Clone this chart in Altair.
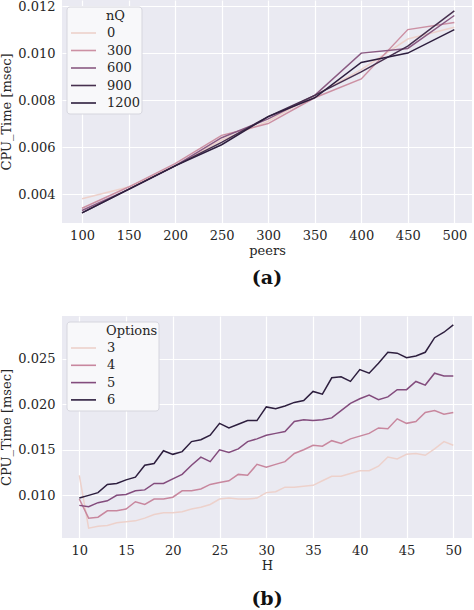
import altair as alt
import pandas as pd

# ---------------- panel (a) data ----------------
peers = [100, 150, 200, 250, 300, 350, 400, 450, 500]
nq_levels = [0, 300, 600, 900, 1200]
cpu_nq0 = [0.0038, 0.0043, 0.0052, 0.0063, 0.0071, 0.0082, 0.0093, 0.0106, 0.0111]
cpu_nq300 = [0.0034, 0.0043, 0.0053, 0.0065, 0.0070, 0.0081, 0.0089, 0.0110, 0.0113]
cpu_nq600 = [0.0033, 0.0042, 0.0052, 0.0064, 0.0072, 0.0082, 0.0100, 0.0102, 0.0116]
cpu_nq900 = [0.0032, 0.0042, 0.0052, 0.0062, 0.0073, 0.0082, 0.0092, 0.0103, 0.0118]
cpu_nq1200 = [0.0032, 0.0042, 0.0052, 0.0061, 0.0073, 0.0081, 0.0096, 0.0100, 0.0110]
yticks_a = [0.004, 0.006, 0.008, 0.010, 0.012]

# ---------------- panel (b) data ----------------
H = list(range(10, 51))
opt_levels = [3, 4, 5, 6]
cpu_opt3 = [0.0122, 0.0064, 0.0066, 0.0067, 0.0070, 0.0071, 0.0072, 0.0075, 0.0079, 0.0081,
            0.0081, 0.0082, 0.0085, 0.0087, 0.0090, 0.0096, 0.0097, 0.0096, 0.0096, 0.0097,
            0.0103, 0.0104, 0.0109, 0.0109, 0.0110, 0.0111, 0.0116, 0.0121, 0.0121, 0.0124,
            0.0127, 0.0127, 0.0132, 0.0142, 0.0140, 0.0145, 0.0146, 0.0144, 0.0151, 0.0159,
            0.0155]
cpu_opt4 = [0.0096, 0.0075, 0.0076, 0.0083, 0.0083, 0.0085, 0.0093, 0.0090, 0.0096, 0.0096,
            0.0098, 0.0105, 0.0105, 0.0107, 0.0112, 0.0114, 0.0116, 0.0123, 0.0122, 0.0134,
            0.0131, 0.0134, 0.0137, 0.0146, 0.0150, 0.0155, 0.0154, 0.0160, 0.0157, 0.0162,
            0.0165, 0.0168, 0.0174, 0.0173, 0.0184, 0.0179, 0.0181, 0.0191, 0.0193, 0.0189,
            0.0191]
cpu_opt5 = [0.0089, 0.00875, 0.0092, 0.0094, 0.0100, 0.0101, 0.0105, 0.0106, 0.0113, 0.0113,
            0.0118, 0.0123, 0.0133, 0.0142, 0.0137, 0.0150, 0.0147, 0.0151, 0.0159, 0.0162,
            0.0166, 0.0168, 0.0170, 0.0181, 0.0183, 0.0182, 0.0183, 0.0185, 0.0193, 0.0201,
            0.0206, 0.0210, 0.0205, 0.0208, 0.0216, 0.0216, 0.0225, 0.0221, 0.0234, 0.0231,
            0.0231]
cpu_opt6 = [0.0097, 0.0100, 0.0103, 0.0112, 0.0113, 0.0117, 0.0120, 0.0133, 0.0135, 0.0149,
            0.0145, 0.0148, 0.0159, 0.0161, 0.0166, 0.0179, 0.0174, 0.0178, 0.0182, 0.0182,
            0.0197, 0.0195, 0.0198, 0.0202, 0.0204, 0.0214, 0.0211, 0.0229, 0.0230, 0.0225,
            0.0238, 0.0234, 0.0245, 0.0257, 0.0256, 0.0251, 0.0253, 0.0257, 0.0273, 0.0279,
            0.0287]
yticks_b = [0.010, 0.015, 0.020, 0.025]

pal5 = ["#edd1cb", "#cc90a3", "#8a5a82", "#47304f", "#2d1e3e"]
pal4 = ["#edd1cb", "#c8879e", "#834c7d", "#2d1e3e"]

FONT = "DejaVu Serif"
TXT = "#262626"

rows_a = []
for lvl, vals in zip(nq_levels, [cpu_nq0, cpu_nq300, cpu_nq600, cpu_nq900, cpu_nq1200]):
    for p, v in zip(peers, vals):
        rows_a.append({"peers": p, "cpu": v, "nQ": lvl})
df_a = pd.DataFrame(rows_a)

rows_b = []
for lvl, vals in zip(opt_levels, [cpu_opt3, cpu_opt4, cpu_opt5, cpu_opt6]):
    for h, v in zip(H, vals):
        rows_b.append({"H": h, "cpu": v, "Options": lvl})
df_b = pd.DataFrame(rows_b)


def legend_layers(field, levels, scale, title, box, title_y, first_y, step):
    """Seaborn-style legend box drawn inside the plot area."""
    x0, x1, y0, y1 = box
    frame = alt.Chart(pd.DataFrame({"k": [0]})).mark_rect(
        fill="#f8f8fa", stroke="#d6d6de", strokeWidth=1, cornerRadius=3
    ).encode(x=alt.value(x0), x2=alt.value(x1), y=alt.value(y0), y2=alt.value(y1))
    ttl = alt.Chart(pd.DataFrame({"t": [title]})).mark_text(
        align="left", baseline="middle", font=FONT, fontSize=13, color=TXT
    ).encode(x=alt.value(x0 + 39), y=alt.value(title_y), text="t:N")
    entries = alt.Chart(pd.DataFrame({field: levels})).transform_window(
        rank="row_number()"
    ).transform_calculate(
        ypix=f"{first_y} + {step} * (datum.rank - 1)"
    )
    sym = entries.mark_rule(strokeWidth=1.6).encode(
        x=alt.value(x0 + 4), x2=alt.value(x0 + 29),
        y=alt.Y("ypix:Q", scale=None, axis=None),
        color=alt.Color(f"{field}:O", scale=scale, legend=None),
    )
    lab = entries.mark_text(
        align="left", baseline="middle", font=FONT, fontSize=13, color=TXT
    ).encode(
        x=alt.value(x0 + 40),
        y=alt.Y("ypix:Q", scale=None, axis=None),
        text=alt.Text(f"{field}:Q", format="d"),
    )
    return [frame, ttl, sym, lab]


scale_a = alt.Scale(domain=nq_levels, range=pal5)
scale_b = alt.Scale(domain=opt_levels, range=pal4)

lines_a = alt.Chart(df_a).mark_line(strokeWidth=1.5, clip=True).encode(
    x=alt.X("peers:Q", title="peers",
            scale=alt.Scale(domain=[78.5, 519], nice=False, zero=False),
            axis=alt.Axis(values=peers, format="d")),
    y=alt.Y("cpu:Q", title="CPU_Time [msec]",
            scale=alt.Scale(domain=[0.00277, 0.01226], nice=False, zero=False),
            axis=alt.Axis(values=yticks_a, format=".3f")),
    color=alt.Color("nQ:O", scale=scale_a, legend=None),
)
chart_a = alt.layer(
    lines_a, *legend_layers("nQ", nq_levels, scale_a, "nQ", (5, 80, 7, 114), 16, 33, 17.5)
).properties(width=410, height=223,
             title=alt.TitleParams("(a)", orient="bottom", offset=12))

lines_b = alt.Chart(df_b).mark_line(strokeWidth=1.5, clip=True).encode(
    x=alt.X("H:Q", title="H",
            scale=alt.Scale(domain=[8.15, 52.0], nice=False, zero=False),
            axis=alt.Axis(values=list(range(10, 51, 5)), format="d")),
    y=alt.Y("cpu:Q", title="CPU_Time [msec]",
            scale=alt.Scale(domain=[0.00532, 0.02968], nice=False, zero=False),
            axis=alt.Axis(values=yticks_b, format=".3f")),
    color=alt.Color("Options:O", scale=scale_b, legend=None),
)
chart_b = alt.layer(
    lines_b, *legend_layers("Options", opt_levels, scale_b, "Options", (5, 97, 6, 95), 15, 32, 17.3)
).properties(width=410, height=222,
             title=alt.TitleParams("(b)", orient="bottom", offset=18))

chart = alt.vconcat(chart_a, chart_b, spacing=28).resolve_scale(color="independent").properties(
    padding={"left": 0, "top": 0, "right": 0, "bottom": 0}
).configure_view(
    fill="#eaeaf2", stroke=None
).configure_axis(
    grid=True, gridColor="white", gridWidth=1.2, domain=False, ticks=False,
    labelFont=FONT, labelFontSize=13, labelColor=TXT, labelPadding=7,
    titleFont=FONT, titleFontSize=13, titleFontWeight="normal", titleColor=TXT, titlePadding=4,
).configure_axisX(labelPadding=6, titlePadding=2).configure_title(
    font=FONT, fontSize=19, fontWeight="bold", color="#111111"
)

chart.save("out.html", embed_options={"renderer": "svg", "actions": False})
